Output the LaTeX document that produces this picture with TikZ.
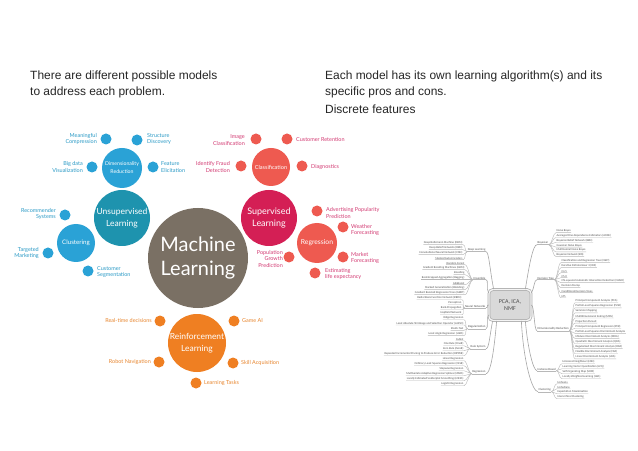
\documentclass[tikz,border=0pt]{standalone}
\usepackage{fontspec}
\setmainfont{Liberation Sans}
\newfontfamily\gillf{Lato}
\newfontfamily\calf{Carlito}
\definecolor{mlgrey}{HTML}{7A7064}
\definecolor{unsup}{HTML}{1E93AE}
\definecolor{ublue}{HTML}{2AA2D6}
\definecolor{utext}{HTML}{2A9AC6}
\definecolor{sup}{HTML}{D41F55}
\definecolor{coral}{HTML}{EE5A50}
\definecolor{stext}{HTML}{D33B73}
\definecolor{rorange}{HTML}{EF7F22}
\definecolor{rtext}{HTML}{E8862F}
\definecolor{twigc}{HTML}{B8B8B8}
\definecolor{leaftext}{HTML}{505050}
\pgfdeclarelayer{bg}
\pgfsetlayers{bg,main}
\tikzset{
  toptext/.style={font=\fontsize{12}{16}\selectfont, align=left, inner sep=0pt, text=black!85},
  hub/.style={circle, fill=#1, text=white, align=center, inner sep=0pt},
  sat/.style={circle, fill=#1, minimum size=11bp, inner sep=0pt},
  stem/.style={draw=#1, line width=6bp},
  substem/.style={draw=#1, line width=4.5bp},
  satstem/.style={draw=#1, line width=2.6bp},
  slabel/.style={text=#1, inner sep=0pt, font=\gillf\fontsize{5.5}{6.8}\selectfont},
  leaf/.style={font=\calf\fontsize{2.9}{3}\selectfont, text=leaftext, inner xsep=0.4bp, inner ysep=0.3bp},
  blabel/.style={font=\calf\fontsize{3}{3.2}\selectfont, text=leaftext, inner xsep=0.4bp, inner ysep=0.3bp},
  twig/.style={draw=twigc, line width=0.4bp},
  branch/.style={draw=twigc!90!black, line width=0.6bp},
}
\newcommand\leafsR[6]{%
  \foreach \t [count=\i] in {#6} {
    \node[leaf, anchor=south west] (#1\i) at (#3, {#4+#5*(\i-1)}) {\t};
    \draw[twig] (#2.south east) .. controls +(3,0) and +(-3,0) .. (#1\i.south west) -- (#1\i.south east);
  }}
\newcommand\leafsL[6]{%
  \foreach \t [count=\i] in {#6} {
    \node[leaf, anchor=south east] (#1\i) at (#3, {#4+#5*(\i-1)}) {\t};
    \draw[twig] (#2.south west) .. controls +(-3,0) and +(3,0) .. (#1\i.south east) -- (#1\i.south west);
  }}
\begin{document}
\begin{tikzpicture}[x=1bp,y=-1bp]
\useasboundingbox (0,0) rectangle (638,451);
\fill[white] (0,0) rectangle (638,451);

% ---- top texts
\node[toptext, anchor=north west] (t1) at (30,71) {There are different possible models\\to address each problem.};
\node[toptext, anchor=north west] (t2) at (325,71) {Each model has its own learning algorithm(s) and its\\specific pros and cons.};
\node[toptext, anchor=base west] (t3) at (325,114) {Discrete features};

% ---- hubs
\node[hub=mlgrey, minimum size=100bp, font=\gillf\fontsize{20}{25}\selectfont] (ml) at (198,258) {Machine\\Learning};
\node[hub=unsup, minimum size=56bp, font=\gillf\fontsize{8.5}{11.5}\selectfont] (un) at (122,218) {Unsupervised\\Learning};
\node[hub=ublue, minimum size=40bp, font=\gillf\fontsize{5.2}{8}\selectfont] (dr) at (122,168) {Dimensionality\\Reduction};
\node[hub=ublue, minimum size=38bp, font=\gillf\fontsize{6.2}{7}\selectfont] (cl) at (76,243) {Clustering};
\node[hub=sup, minimum size=56bp, font=\gillf\fontsize{9}{13}\selectfont] (su) at (269,218) {Supervised\\Learning};
\node[hub=coral, minimum size=38bp, font=\gillf\fontsize{5.6}{7}\selectfont] (cf) at (271,167) {Classification};
\node[hub=coral, minimum size=40bp, font=\gillf\fontsize{6.8}{8}\selectfont] (rg) at (317,243) {Regression};
\node[hub=rorange, minimum size=58bp, font=\gillf\fontsize{8.5}{11.5}\selectfont] (re) at (197,343) {Reinforcement\\Learning};

% ---- satellites
\foreach \n/\p in {mc/{106,139}, sd/{137,140}, bd/{92,167}, fe/{153,167}, rs/{65,215}, tm/{48,253}, cs/{88,271}}
  \node[sat=ublue] (\n) at (\p) {};
\foreach \n/\p in {ic/{256,139}, cr/{287,139}, ifd/{241,166}, dg/{302,166}, app/{317,211}, wf/{343,227}, mf/{343,257}, ele/{315,273}, pgp/{289,257}}
  \node[sat=coral] (\n) at (\p) {};
\foreach \n/\p in {rtd/{160,321}, gai/{234,321}, rn/{159,362}, sa/{233,363}, lt/{196,383}}
  \node[sat=rorange] (\n) at (\p) {};

\begin{pgfonlayer}{bg}
  \draw[stem=unsup] (ml.center) -- (un.center);
  \draw[stem=sup] (ml.center) -- (su.center);
  \draw[stem=rorange] (ml.center) -- (re.center);
  \draw[substem=ublue] (un.center) -- (dr.center);
  \draw[substem=ublue] (un.center) -- (cl.center);
  \draw[substem=coral] (su.center) -- (cf.center);
  \draw[substem=coral] (su.center) -- (rg.center);
  \foreach \n in {mc,sd,bd,fe} \draw[satstem=ublue] (dr.center) -- (\n.center);
  \foreach \n in {rs,tm,cs} \draw[satstem=ublue] (cl.center) -- (\n.center);
  \foreach \n in {ic,cr,ifd,dg} \draw[satstem=coral] (cf.center) -- (\n.center);
  \foreach \n in {app,wf,mf,ele,pgp} \draw[satstem=coral] (rg.center) -- (\n.center);
  \foreach \n in {rtd,gai,rn,sa,lt} \draw[satstem=rorange] (re.center) -- (\n.center);
\end{pgfonlayer}

% ---- satellite labels
\node[slabel=utext, anchor=east, align=right] (lmc) at (97,139) {Meaningful\\Compression};
\node[slabel=utext, anchor=west, align=left] (lsd) at (147,139) {Structure\\Discovery};
\node[slabel=utext, anchor=east, align=right] (lbd) at (83,167) {Big data\\Visualization};
\node[slabel=utext, anchor=west, align=left] (lfe) at (161,167) {Feature\\Elicitation};
\node[slabel=utext, anchor=east, align=right] (lrs) at (56,214) {Recommender\\Systems};
\node[slabel=utext, anchor=east, align=right] (ltm) at (39,253) {Targeted\\Marketing};
\node[slabel=utext, anchor=west, align=left] (lcs) at (97,272) {Customer\\Segmentation};

\node[slabel=stext, anchor=east, align=right] (lic) at (245,140) {Image\\Classification};
\node[slabel=stext, anchor=west, align=left] (lcr) at (296,140) {Customer Retention};
\node[slabel=stext, anchor=east, align=right] (lifd) at (230,167) {Identify Fraud\\Detection};
\node[slabel=stext, anchor=west, align=left] (ldg) at (311,167) {Diagnostics};
\node[slabel=stext, anchor=west, align=left] (lapp) at (326,213) {Advertising Popularity\\Prediction};
\node[slabel=stext, anchor=west, align=left] (lwf) at (351,230) {Weather\\Forecasting};
\node[slabel=stext, anchor=west, align=left] (lmf) at (351,258) {Market\\Forecasting};
\node[slabel=stext, anchor=west, align=left] (lele) at (325,274) {Estimating\\life expectancy};
\node[slabel=stext, anchor=east, align=right] (lpgp) at (283,259) {Population\\Growth\\Prediction};

\node[slabel=rtext, anchor=east] (lrtd) at (152,321) {Real-time decisions};
\node[slabel=rtext, anchor=west] (lgai) at (242,321) {Game AI};
\node[slabel=rtext, anchor=east] (lrn) at (151,362) {Robot Navigation};
\node[slabel=rtext, anchor=west] (lsa) at (241,363) {Skill Acquisition};
\node[slabel=rtext, anchor=west] (llt) at (204,383) {Learning Tasks};

% ---- right mind map
\node[draw=gray!65, double=gray!8, double distance=1.3bp, line width=0.7bp, fill=gray!30, rounded corners=4bp,
      minimum width=42bp, minimum height=31bp, align=center, text=black!70,
      font=\calf\fontsize{6}{6.5}\selectfont] (ctr) at (510,305) {PCA, ICA,\\NMF};

% branch labels right
\node[blabel, anchor=south west] (bay) at (537,244.7) {Bayesian};
\node[blabel, anchor=south west] (dtr) at (537,279.7) {Decision Tree};
\node[blabel, anchor=south west] (dre) at (537,330.7) {Dimensionality Reduction};
\node[blabel, anchor=south west] (ibs) at (537,370.7) {Instance Based};
\node[blabel, anchor=south west] (clu) at (538,391.7) {Clustering};
% branch labels left
\node[blabel, anchor=south east] (dle) at (486,251.7) {Deep Learning};
\node[blabel, anchor=south east] (ens) at (486,279.7) {Ensemble};
\node[blabel, anchor=south east] (nne) at (486,307.7) {Neural Networks};
\node[blabel, anchor=south east] (rgl) at (486,328.7) {Regularization};
\node[blabel, anchor=south east] (rsy) at (486,348.7) {Rule System};
\node[blabel, anchor=south east] (rgr) at (486,373.7) {Regression};

\foreach \b in {bay,dtr,dre,ibs,clu,dle,ens,nne,rgl,rsy,rgr}
  \draw[twig] (\b.south west) -- (\b.south east);

% center connectors
\draw[branch] ([xshift=-6bp]ctr.north east) .. controls +(4,-25) and +(-4,0) .. (bay.south west);
\draw[branch] ([yshift=-4bp]ctr.north east) .. controls +(3,-5) and +(-3,0) .. (dtr.south west);
\draw[branch] (ctr.east) .. controls +(3,0) and +(-3,0) .. (dre.south west);
\draw[branch] ([xshift=-6bp]ctr.south east) .. controls +(2,25) and +(-4,0) .. (ibs.south west);
\draw[branch] ([xshift=-10bp]ctr.south east) .. controls +(2,40) and +(-6,0) .. (clu.south west);
\draw[branch] ([xshift=5bp]ctr.north west) .. controls +(-4,-20) and +(3,0) .. (dle.south east);
\draw[branch] ([yshift=-4bp]ctr.north west) .. controls +(-3,-5) and +(3,0) .. (ens.south east);
\draw[branch] (ctr.west) .. controls +(-3,0) and +(3,0) .. (nne.south east);
\draw[branch] ([yshift=6bp]ctr.south west) .. controls +(-3,3) and +(3,0) .. (rgl.south east);
\draw[branch] ([xshift=4bp]ctr.south west) .. controls +(-3,15) and +(3,0) .. (rsy.south east);
\draw[branch] ([xshift=8bp]ctr.south west) .. controls +(-3,35) and +(4,0) .. (rgr.south east);

% leaves right
\leafsR{bayl}{bay}{556}{232.7}{4.8}{Naive Bayes, Averaged One-Dependence Estimators (AODE), Bayesian Belief Network (BBN), Gaussian Naive Bayes, Multinomial Naive Bayes, Bayesian Network (BN)}
\leafsR{dtrl}{dtr}{561}{262.7}{5}{Classification and Regression Tree (CART), Iterative Dichotomiser 3 (ID3), C4.5, C5.0, Chi-squared Automatic Interaction Detection (CHAID), Decision Stump, Conditional Decision Trees, M5}
\leafsR{drel}{dre}{575}{302.7}{5.1}{Principal Component Analysis (PCA), Partial Least Squares Regression (PLSR), Sammon Mapping, Multidimensional Scaling (MDS), Projection Pursuit, Principal Component Regression (PCR), Partial Least Squares Discriminant Analysis, Mixture Discriminant Analysis (MDA), Quadratic Discriminant Analysis (QDA), Regularized Discriminant Analysis (RDA), Flexible Discriminant Analysis (FDA), Linear Discriminant Analysis (LDA)}
\leafsR{ibsl}{ibs}{562}{363.7}{5}{k-Nearest Neighbour (kNN), Learning Vector Quantization (LVQ), Self-Organizing Map (SOM), Locally Weighted Learning (LWL)}
\leafsR{clul}{clu}{557}{383.7}{5}{k-Means, k-Medians, Expectation Maximisation, Hierarchical Clustering}
% leaves left
\leafsL{dlel}{dle}{463}{244.7}{5}{Deep Boltzmann Machine (DBM), Deep Belief Networks (DBN), Convolutional Neural Network (CNN), Stacked Auto-Encoders}
\leafsL{ensl}{ens}{465}{264.7}{5}{Random Forest, Gradient Boosting Machines (GBM), Boosting, Bootstrapped Aggregation (Bagging), AdaBoost, Stacked Generalization (Blending), Gradient Boosted Regression Trees (GBRT)}
\leafsL{nnel}{nne}{462}{299.7}{5}{Radial Basis Function Network (RBFN), Perceptron, Back-Propagation, Hopfield Network}
\leafsL{rgll}{rgl}{464}{319.7}{5.3}{Ridge Regression, Least Absolute Shrinkage and Selection Operator (LASSO), Elastic Net, Least Angle Regression (LARS)}
\leafsL{rsyl}{rsy}{464}{340.7}{5}{Cubist, One Rule (OneR), Zero Rule (ZeroR), Repeated Incremental Pruning to Produce Error Reduction (RIPPER)}
\leafsL{rgrl}{rgr}{464}{360.7}{5}{Linear Regression, Ordinary Least Squares Regression (OLSR), Stepwise Regression, Multivariate Adaptive Regression Splines (MARS), Locally Estimated Scatterplot Smoothing (LOESS), Logistic Regression}
\end{tikzpicture}
\end{document}
